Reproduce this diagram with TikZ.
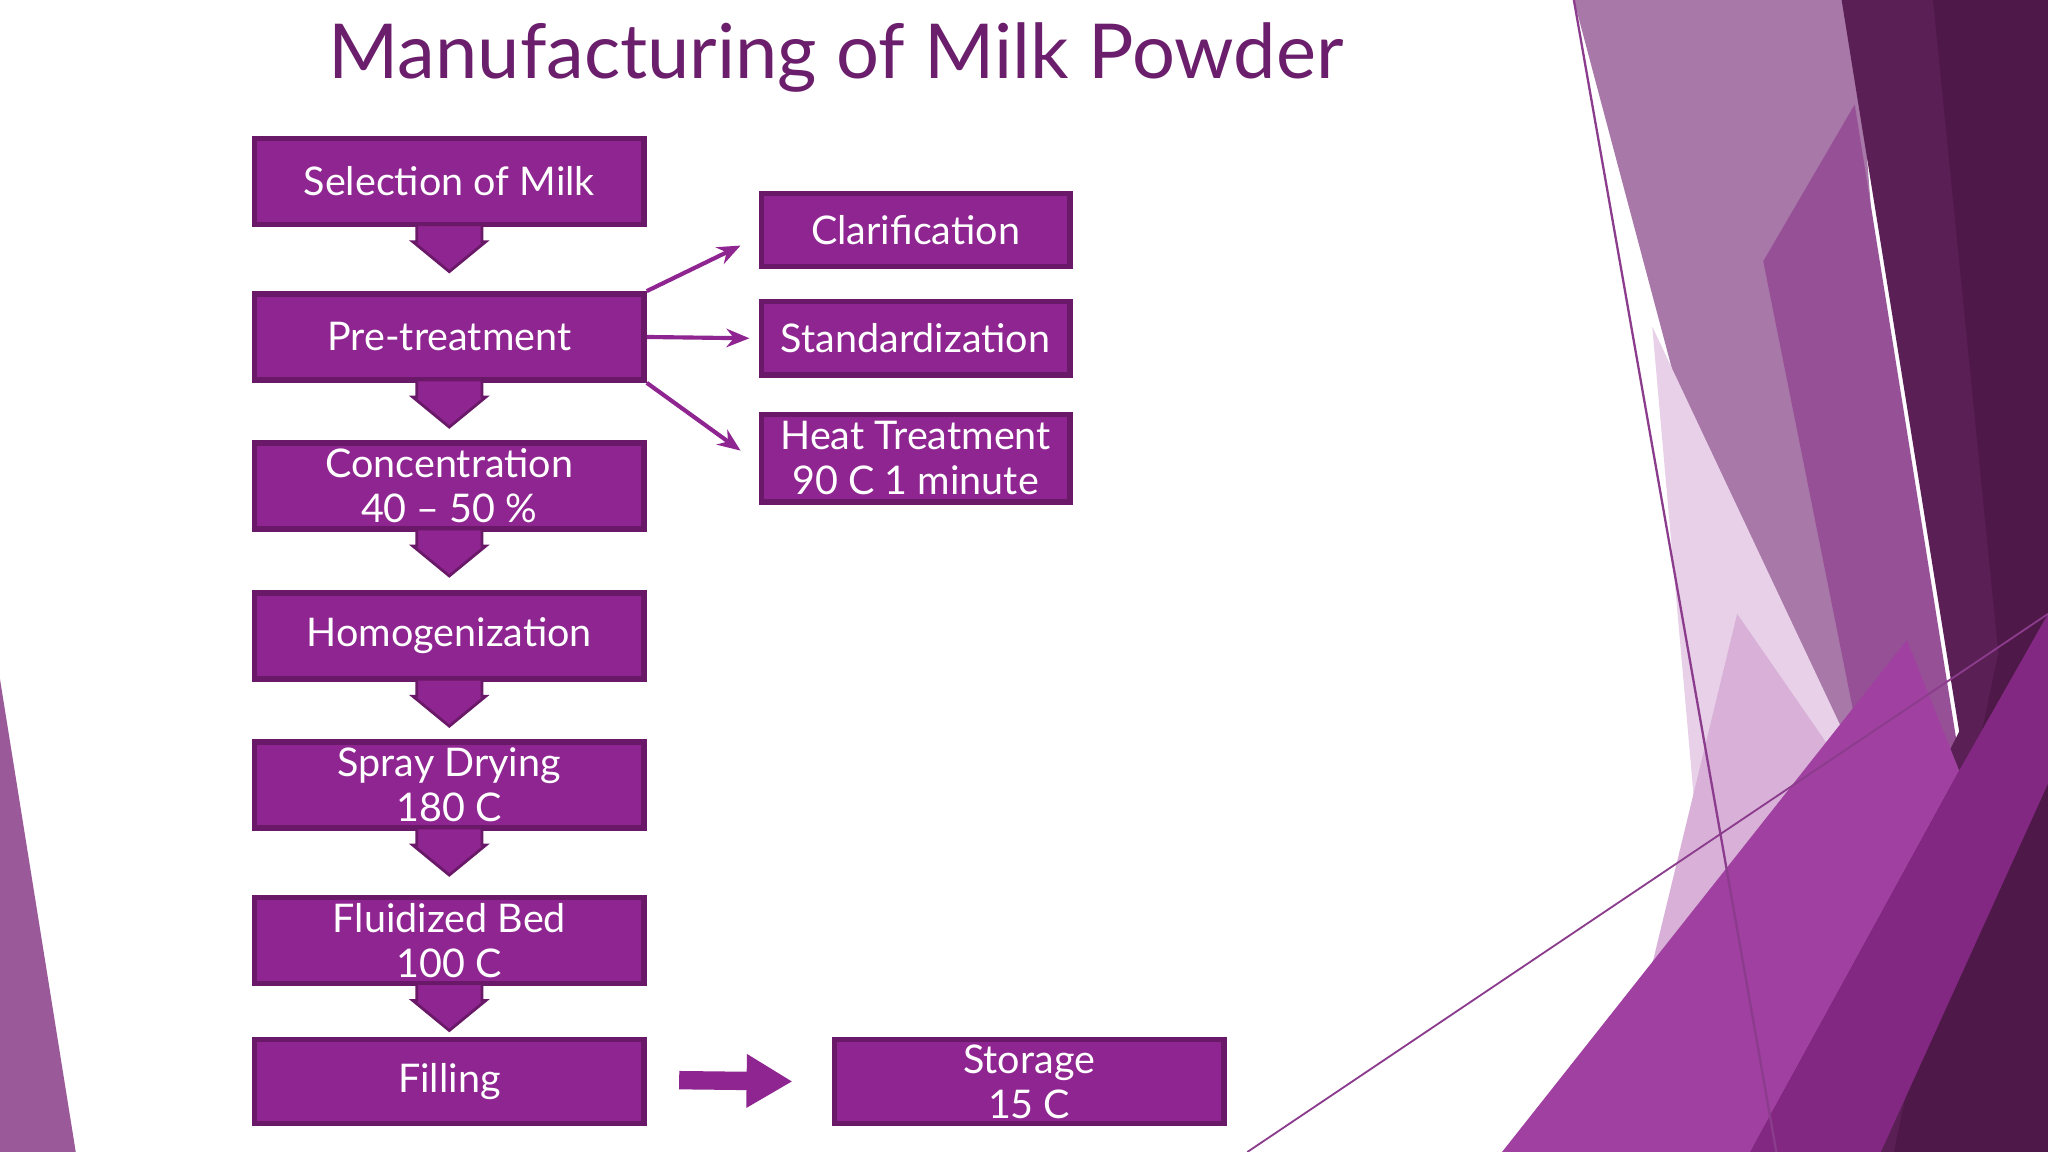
\documentclass[tikz,border=0pt]{standalone}
\usepackage{fontspec}
\setmainfont{Lato}
\usetikzlibrary{arrows.meta}
\definecolor{boxp}{HTML}{8E2590}
\definecolor{boxd}{HTML}{6A1868}
\definecolor{titlep}{HTML}{6B1E6B}
\tikzset{
  pbox/.style={draw=boxd,line width=1.2pt,fill=boxp,text=white,align=center,font=\fontsize{8.6}{9.8}\selectfont,inner sep=0pt},
  thin/.style={draw=boxp,line width=0.9pt,-{Stealth[length=5pt,width=4pt]}},
}
\newcommand{\downarr}[2]{\fill[boxp,draw=boxd,line width=0.6pt] (#1-25,#2) -- (#1+25,#2) -- (#1+25,#2+13) -- (#1+28,#2+13) -- (#1,#2+36) -- (#1-28,#2+13) -- (#1-25,#2+13) -- cycle;}
\begin{document}
\begin{tikzpicture}[x=0.01cm,y=-0.01cm]
\useasboundingbox (0,0) rectangle (1568,882);
\fill[white] (0,0) rectangle (1568,882);
% background decorations
\fill[color={rgb,255:red,168;green,120;blue,168}] (1205,0) -- (1420,0) -- (1470,640) -- (1330,470) -- cycle;
\fill[color={rgb,255:red,232;green,208;blue,232}] (1265,250) -- (1430,600) -- (1310,760) -- cycle;
\fill[color={rgb,255:red,150;green,80;blue,150}] (1350,200) -- (1420,80) -- (1500,580) -- (1440,650) -- cycle;
\fill[color={rgb,255:red,90;green,31;blue,85}] (1410,0) -- (1568,0) -- (1568,882) -- (1340,882) -- (1500,560) -- cycle;
\fill[color={rgb,255:red,78;green,24;blue,72}] (1480,0) -- (1568,0) -- (1568,882) -- (1450,882) -- (1530,500) -- cycle;
\fill[color={rgb,255:red,216;green,176;blue,216}] (1330,470) -- (1420,600) -- (1300,800) -- (1250,800) -- cycle;
\fill[color={rgb,255:red,160;green,64;blue,160}] (1150,882) -- (1460,490) -- (1500,590) -- (1340,882) -- cycle;
\fill[color={rgb,255:red,130;green,40;blue,130}] (1340,882) -- (1500,590) -- (1568,470) -- (1568,600) -- (1440,882) -- cycle;
\draw[color={rgb,255:red,140;green,60;blue,140},line width=0.5pt] (1205,0) -- (1360,882);
\draw[color={rgb,255:red,140;green,60;blue,140},line width=0.4pt] (955,882) -- (1568,470);
\fill[color={rgb,255:red,154;green,90;blue,154}] (0,520) -- (58,882) -- (0,882) -- cycle;
% title
\node[text=titlep,font=\fontsize{16.5}{18}\selectfont] (title) at (640,44) {Manufacturing of Milk Powder};
% main boxes
\node[pbox,minimum width=2.98cm,minimum height=0.66cm] (sel) at (344,139) {Selection of Milk};
\node[pbox,minimum width=2.98cm,minimum height=0.66cm] (pre) at (344,258) {Pre-treatment};
\node[pbox,minimum width=2.98cm,minimum height=0.66cm] (con) at (344,372) {Concentration\\40 – 50 \%};
\node[pbox,minimum width=2.98cm,minimum height=0.66cm] (hom) at (344,487) {Homogenization};
\node[pbox,minimum width=2.98cm,minimum height=0.66cm] (spr) at (344,601) {Spray Drying\\180 C};
\node[pbox,minimum width=2.98cm,minimum height=0.66cm] (flu) at (344,720) {Fluidized Bed\\100 C};
\node[pbox,minimum width=2.98cm,minimum height=0.64cm] (fil) at (344,828) {Filling};
\node[pbox,minimum width=2.98cm,minimum height=0.64cm] (sto) at (788,828) {Storage\\15 C};
\node[pbox,minimum width=2.36cm,minimum height=0.56cm] (cla) at (701,176) {Clarification};
\node[pbox,minimum width=2.36cm,minimum height=0.56cm] (sta) at (701,259) {Standardization};
\node[pbox,minimum width=2.36cm,minimum height=0.67cm] (hea) at (701,351) {Heat Treatment\\90 C 1 minute};
% block arrows
\downarr{344}{172}
\downarr{344}{291}
\downarr{344}{405}
\downarr{344}{520}
\downarr{344}{634}
\downarr{344}{753}
% thin arrows
\coordinate (c1) at (567,188);
\coordinate (c3) at (567,345);
\draw[thin] (pre.north east) -- (c1);
\draw[thin] (pre.east) -- ([xshift=-0.07cm]sta.west);
\draw[thin] (pre.south east) -- (c3);
% filling arrow
\coordinate (fa) at (520,827);
\draw[boxp,line width=4pt,-{Triangle[length=10pt,width=11pt]}] (fa) -- ([xshift=-0.3cm]sto.west);
\end{tikzpicture}
\end{document}
